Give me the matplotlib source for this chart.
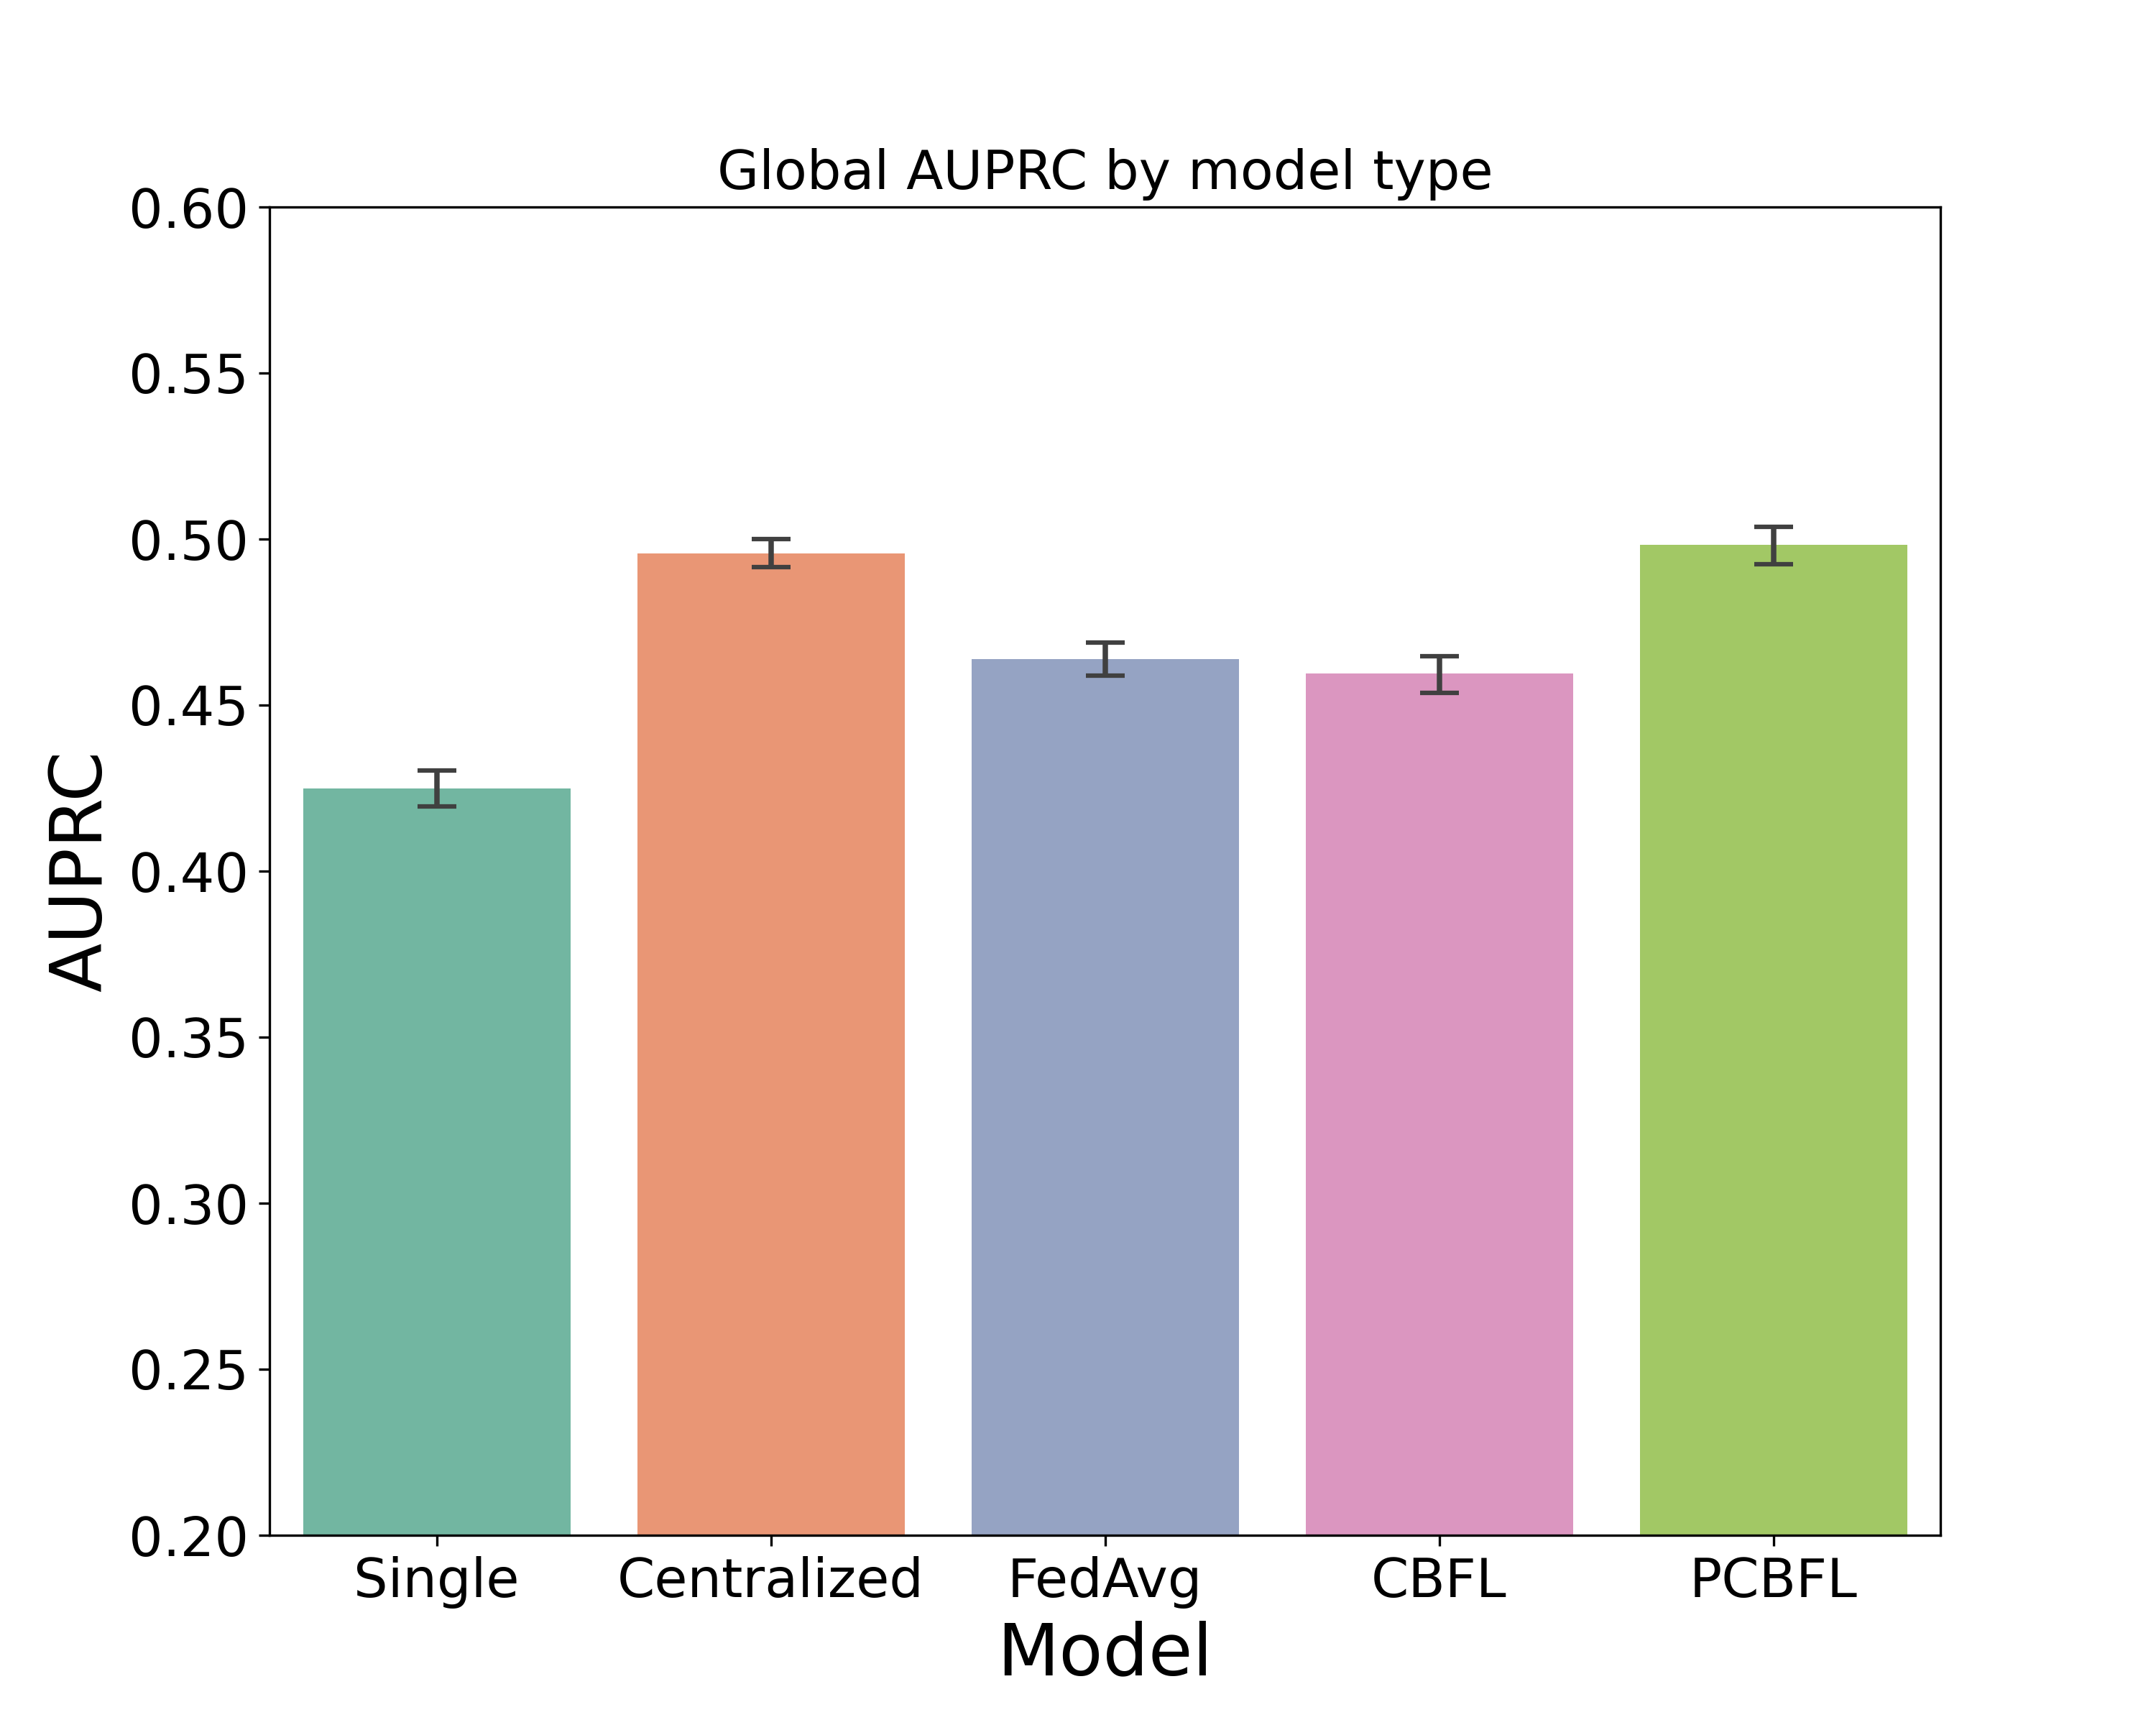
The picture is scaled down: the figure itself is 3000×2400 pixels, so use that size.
import colorsys
import matplotlib
matplotlib.use("Agg")
import matplotlib.pyplot as plt
import matplotlib.colors as mcolors
import numpy as np

models = ["Single", "Centralized", "FedAvg", "CBFL", "PCBFL"]
auprc = [0.4249, 0.4957, 0.4639, 0.4595, 0.4983]
ci_low = [0.4195, 0.4916, 0.4589, 0.4537, 0.4924]
ci_high = [0.4303, 0.5000, 0.4688, 0.4647, 0.5037]
yticks = [0.20, 0.25, 0.30, 0.35, 0.40, 0.45, 0.50, 0.55, 0.60]

base = ["#66c2a5", "#fc8d62", "#8da0cb", "#e78ac3", "#a6d854"]


def desat(c, prop=0.75):
    r, g, b = mcolors.to_rgb(c)
    h, l, s = colorsys.rgb_to_hls(r, g, b)
    return colorsys.hls_to_rgb(h, l, s * prop)


colors = [desat(c) for c in base]

fig, ax = plt.subplots(figsize=(10, 8), dpi=300)
x = np.arange(len(models))
ax.bar(x, auprc, width=0.8, color=colors)
yerr = np.array([np.array(auprc) - np.array(ci_low), np.array(ci_high) - np.array(auprc)])
ax.errorbar(x, auprc, yerr=yerr, fmt="none", ecolor="#404040", elinewidth=1.8,
            capsize=6.4, capthick=1.5)

ax.set_xlim(-0.5, len(models) - 0.5)
ax.set_ylim(0.20, 0.60)
ax.set_yticks(yticks)
ax.set_yticklabels([f"{t:.2f}" for t in yticks])
ax.set_xticks(x)
ax.set_xticklabels(models)
ax.tick_params(axis="both", labelsize=18)
ax.set_xlabel("Model", fontsize=24)
ax.set_ylabel("AUPRC", fontsize=24)
ax.set_title("Global AUPRC by model type", fontsize=18)

fig.savefig("out.png", dpi=300)
